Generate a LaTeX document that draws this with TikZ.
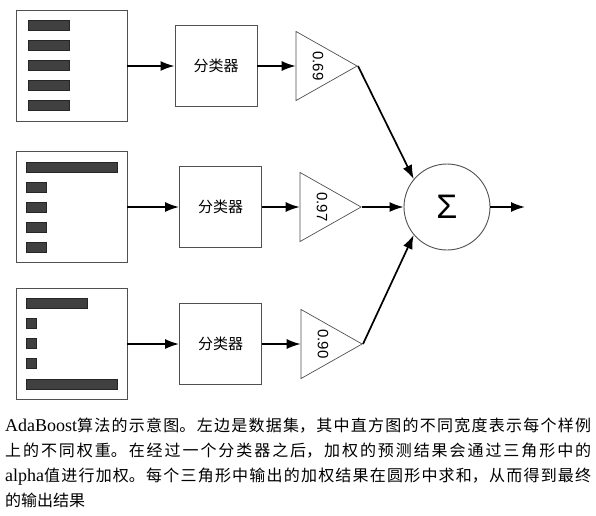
\documentclass[tikz,border=0pt]{standalone}
\usepackage{fontspec}
\setmainfont{Liberation Serif}
\setsansfont{Liberation Sans}
\newfontfamily\cjk{Noto Sans CJK SC}
\usepackage{xcolor}
\definecolor{bargray}{RGB}{64, 64, 64}
\definecolor{framegray}{RGB}{80, 80, 80}
\usetikzlibrary{arrows.meta, calc, shapes.geometric}
\newcommand\latn{\rmfamily\fontsize{18}{25}\selectfont}
\XeTeXlinebreaklocale "zh"
\XeTeXlinebreakskip=0pt plus 2pt

\begin{document}
\begin{tikzpicture}[
    x=1pt, y=-1pt,
    databox/.style={draw=framegray, line width=0.9pt, minimum width=111pt,
      minimum height=111pt, inner sep=0pt},
    clfbox/.style={draw=framegray, line width=0.9pt, minimum width=82pt,
      minimum height=81pt, font=\cjk\fontsize{15}{15}\selectfont},
    weight/.style={draw=framegray, line width=0.7pt, isosceles triangle,
      isosceles triangle stretches, minimum width=69pt, minimum height=61pt,
      inner sep=0pt, anchor=apex},
    wlabel/.style={rotate=-90, font=\sffamily\fontsize{15}{15}\selectfont},
    bar/.style={fill=bargray, draw=black!85, line width=0.6pt},
    conn/.style={-{Latex[length=14pt,width=10pt]}, line width=1.7pt},
    caption/.style={text width=586pt, align=justify, inner sep=0pt,
      font=\cjk\fontsize{16}{25}\selectfont}
  ]
  \useasboundingbox (0,0) rectangle (596,515);

  % data sets with weighted samples
  \node[databox] (d1) at (71.5,66) {};
  \node[databox] (d2) at (71.5,207) {};
  \node[databox] (d3) at (71.5,344) {};
  \foreach \k in {0,...,4}
    \draw[bar] (28,20+20*\k) rectangle (69,30+20*\k);
  \draw[bar] (26,162) rectangle (117,172);
  \foreach \k in {0,...,3}
    \draw[bar] (26,182+20*\k) rectangle (46,192+20*\k);
  \draw[bar] (26,298) rectangle (87,308);
  \foreach \k in {0,...,2}
    \draw[bar] (26,318+20*\k) rectangle (36,328+20*\k);
  \draw[bar] (26,379) rectangle (117,389);

  % classifiers and alpha weights
  \node[clfbox] (c1) at (216,66) {分类器};
  \node[clfbox] (c2) at (220.5,207) {分类器};
  \node[clfbox] (c3) at (220.5,344) {分类器};
  \node[weight] (t1) at (358,66) {};
  \node[weight] (t2) at (362,207) {};
  \node[weight] (t3) at (363,344) {};
  \node[wlabel] (w1) at ($0.36*(t1.apex)+0.32*(t1.left corner)+0.32*(t1.right corner)$) {0.69};
  \node[wlabel] (w2) at ($0.36*(t2.apex)+0.32*(t2.left corner)+0.32*(t2.right corner)$) {0.97};
  \node[wlabel] (w3) at ($0.36*(t3.apex)+0.32*(t3.left corner)+0.32*(t3.right corner)$) {0.90};

  \node[circle, draw=framegray, line width=0.9pt, minimum size=86pt, inner sep=0pt,
    font=\sffamily\fontsize{34}{34}\selectfont] (sum) at (447,207) {Σ};
  \coordinate (out) at (525,207);

  \path[conn]
    (d1) edge (c1)
    (d2) edge (c2)
    (d3) edge (c3)
    (c1) edge (t1)
    (c2) edge (t2)
    (c3) edge (t3)
    (t1.apex) edge (sum.140)
    (t2.apex) edge (sum)
    (t3.apex) edge (sum.220)
    (sum) edge (out)
    ;

  \node[caption, anchor=north west] (cap) at (5,418) {{\latn AdaBoost}算法的示意图。左边是数据集，其中直方图的不同宽度表示每个样例\linebreak
    上的不同权重。在经过一个分类器之后，加权的预测结果会通过三角形中的\linebreak
    {\latn alpha}值进行加权。每个三角形中输出的加权结果在圆形中求和，从而得到最终\linebreak
    的输出结果};
\end{tikzpicture}
\end{document}
